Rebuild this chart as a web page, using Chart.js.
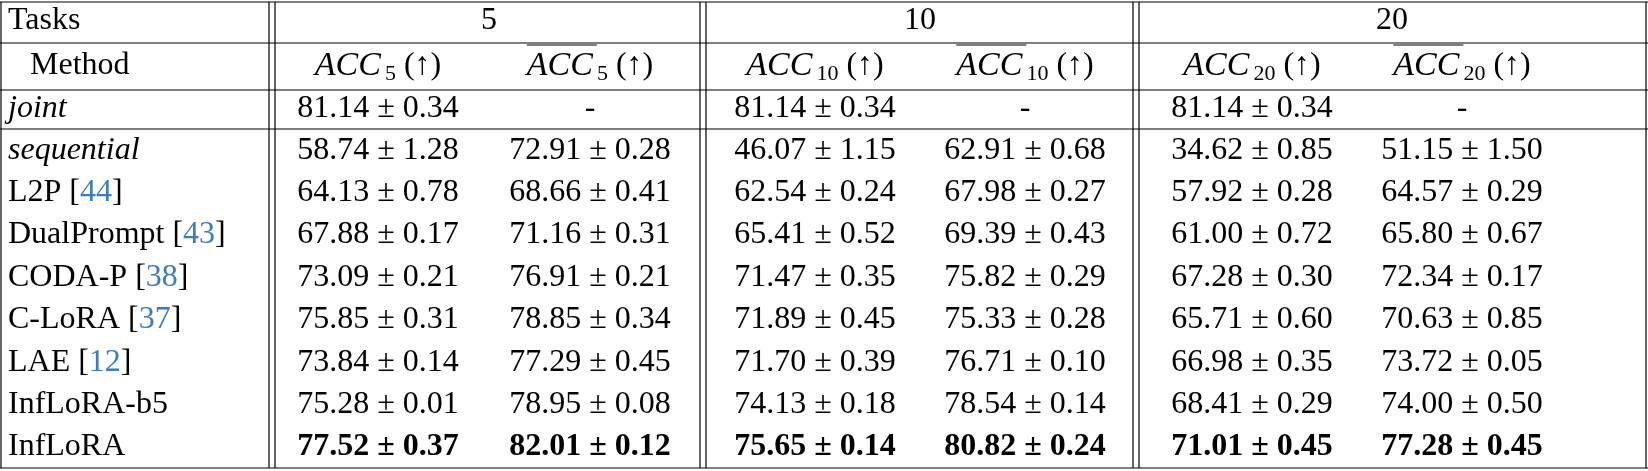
<!DOCTYPE html>
<html>
<head>
<meta charset="utf-8">
<script src="https://cdn.jsdelivr.net/npm/chart.js@4/dist/chart.umd.min.js"></script>
<style>
  html, body { margin: 0; padding: 0; background: #fff; }
  #tabela { display: block; }
</style>
</head>
<body>
<canvas id="tabela" width="1648" height="471"></canvas>
<script>
// dados da tabela
const tasks = ['5', '10', '20'];
const methods = ['joint', 'sequential', 'L2P', 'DualPrompt', 'CODA-P', 'C-LoRA', 'LAE', 'InfLoRA-b5', 'InfLoRA'];
const refs = [null, null, '44', '43', '38', '37', '12', null, null];
const italicRows = [0, 1];
const boldRow = 8;

const acc5Mean = [81.14, 58.74, 64.13, 67.88, 73.09, 75.85, 73.84, 75.28, 77.52];
const acc5Std = [0.34, 1.28, 0.78, 0.17, 0.21, 0.31, 0.14, 0.01, 0.37];
const accBar5Mean = [null, 72.91, 68.66, 71.16, 76.91, 78.85, 77.29, 78.95, 82.01];
const accBar5Std = [null, 0.28, 0.41, 0.31, 0.21, 0.34, 0.45, 0.08, 0.12];
const acc10Mean = [81.14, 46.07, 62.54, 65.41, 71.47, 71.89, 71.70, 74.13, 75.65];
const acc10Std = [0.34, 1.15, 0.24, 0.52, 0.35, 0.45, 0.39, 0.18, 0.14];
const accBar10Mean = [null, 62.91, 67.98, 69.39, 75.82, 75.33, 76.71, 78.54, 80.82];
const accBar10Std = [null, 0.68, 0.27, 0.43, 0.29, 0.28, 0.10, 0.14, 0.24];
const acc20Mean = [81.14, 34.62, 57.92, 61.00, 67.28, 65.71, 66.98, 68.41, 71.01];
const acc20Std = [0.34, 0.85, 0.28, 0.72, 0.30, 0.60, 0.35, 0.29, 0.45];
const accBar20Mean = [null, 51.15, 64.57, 65.80, 72.34, 70.63, 73.72, 74.00, 77.28];
const accBar20Std = [null, 1.50, 0.29, 0.67, 0.17, 0.85, 0.05, 0.50, 0.45];

// layout (posições em unidades da escala)
const colX = [378, 590, 815, 1025, 1252, 1462];
const groupX = [489, 920, 1392];
const headRowY = 21, methodRowY = 66, jointRowY = 109;
const dataTop = 129, rowH = 42.4;
const hLines = [2, 43, 90, 129, 468];
const vDouble = [272, 703, 1136];

const colunas = [
  { sub: '5', bar: false, mean: acc5Mean, std: acc5Std },
  { sub: '5', bar: true, mean: accBar5Mean, std: accBar5Std },
  { sub: '10', bar: false, mean: acc10Mean, std: acc10Std },
  { sub: '10', bar: true, mean: accBar10Mean, std: accBar10Std },
  { sub: '20', bar: false, mean: acc20Mean, std: acc20Std },
  { sub: '20', bar: true, mean: accBar20Mean, std: accBar20Std },
];

function rowY(i) {
  return i === 0 ? jointRowY : dataTop + (i - 0.5) * rowH;
}

const datasets = colunas.map(function (c, j) {
  return {
    label: 'col' + j,
    data: methods.map(function (m, i) { return { x: colX[j], y: rowY(i) }; }),
    pointRadius: 0
  };
});
datasets.push({
  label: 'methods',
  data: methods.map(function (m, i) { return { x: 8, y: rowY(i) }; }),
  pointRadius: 0
});

const FONT = '"Liberation Serif", "DejaVu Serif", serif';
const SIZE = 32;

const tabelaPlugin = {
  id: 'tabela',
  afterDatasetsDraw: function (chart) {
    const ctx = chart.ctx;
    const xs = chart.scales.x, ys = chart.scales.y;
    const px = function (v) { return xs.getPixelForValue(v); };
    const py = function (v) { return ys.getPixelForValue(v); };
    ctx.save();
    ctx.fillStyle = '#000';
    ctx.strokeStyle = '#000';
    ctx.lineWidth = 1.2;

    // linhas
    hLines.forEach(function (y) {
      ctx.beginPath(); ctx.moveTo(px(0), py(y)); ctx.lineTo(px(1648), py(y)); ctx.stroke();
    });
    [1, 1646].forEach(function (x) {
      ctx.beginPath(); ctx.moveTo(px(x), py(2)); ctx.lineTo(px(x), py(468)); ctx.stroke();
    });
    vDouble.forEach(function (x) {
      [x - 3, x + 3].forEach(function (xx) {
        ctx.beginPath(); ctx.moveTo(px(xx), py(2)); ctx.lineTo(px(xx), py(468)); ctx.stroke();
      });
    });

    ctx.textBaseline = 'middle';
    // cabeçalho
    ctx.font = SIZE + 'px ' + FONT;
    ctx.textAlign = 'left';
    ctx.fillText('Tasks', px(8), py(headRowY));
    ctx.fillText('Method', px(30), py(methodRowY));
    ctx.textAlign = 'center';
    tasks.forEach(function (t, k) { ctx.fillText(t, px(groupX[k]), py(headRowY)); });

    colunas.forEach(function (c, j) {
      const cx = px(colX[j]), cy = py(methodRowY);
      const fMain = 'italic 34px ' + FONT;
      const fSub = '22px ' + FONT;
      const fUp = SIZE + 'px ' + FONT;
      ctx.font = fMain; const wA = ctx.measureText('ACC').width + 4;
      ctx.font = fSub; const wS = ctx.measureText(c.sub).width;
      ctx.font = fUp; const wU = ctx.measureText(' (↑)').width;
      let x0 = cx - (wA + wS + wU) / 2;
      ctx.textAlign = 'left';
      ctx.font = fMain; ctx.fillText('ACC', x0, cy);
      if (c.bar) {
        ctx.beginPath(); ctx.moveTo(x0, cy - 21); ctx.lineTo(x0 + wA, cy - 21); ctx.stroke();
      }
      ctx.font = fSub; ctx.fillText(c.sub, x0 + wA, cy + 8);
      ctx.font = fUp; ctx.fillText(' (↑)', x0 + wA + wS, cy);
    });

    // células
    const metaM = chart.getDatasetMeta(colunas.length);
    metaM.data.forEach(function (pt, i) {
      ctx.textAlign = 'left';
      ctx.font = (italicRows.indexOf(i) >= 0 ? 'italic ' : '') + SIZE + 'px ' + FONT;
      ctx.fillStyle = '#000';
      const nome = methods[i];
      ctx.fillText(nome, pt.x, pt.y);
      if (refs[i]) {
        let x = pt.x + ctx.measureText(nome + ' ').width;
        ctx.fillText('[', x, pt.y); x += ctx.measureText('[').width;
        ctx.fillStyle = '#3c7cbf';
        ctx.fillText(refs[i], x, pt.y); x += ctx.measureText(refs[i]).width;
        ctx.fillStyle = '#000';
        ctx.fillText(']', x, pt.y);
      }
    });

    colunas.forEach(function (c, j) {
      const meta = chart.getDatasetMeta(j);
      meta.data.forEach(function (pt, i) {
        ctx.textAlign = 'center';
        ctx.font = (i === boldRow ? 'bold ' : '') + SIZE + 'px ' + FONT;
        const txt = c.mean[i] == null ? '-' : c.mean[i].toFixed(2) + ' ± ' + c.std[i].toFixed(2);
        ctx.fillText(txt, pt.x, pt.y);
      });
    });
    ctx.restore();
  }
};

new Chart(document.getElementById('tabela'), {
  type: 'scatter',
  data: { datasets: datasets },
  options: {
    responsive: false,
    animation: false,
    layout: { padding: 0 },
    plugins: { legend: { display: false }, tooltip: { enabled: false } },
    scales: {
      x: { type: 'linear', min: 0, max: 1648, display: false },
      y: { type: 'linear', min: 0, max: 471, reverse: true, display: false }
    }
  },
  plugins: [tabelaPlugin]
});
</script>
</body>
</html>
